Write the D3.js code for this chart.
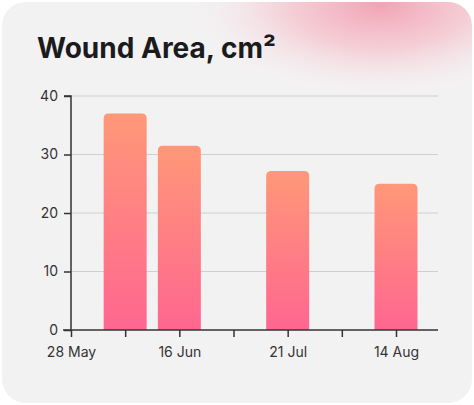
<!DOCTYPE html><html><head><meta charset="utf-8">
<script src="https://cdn.jsdelivr.net/npm/d3@7"></script>
<style>body{margin:0;background:#fff}svg{display:block;font-family:Inter,"Open Sans",sans-serif}</style></head><body>
<script>
const slots=["s0","s1","s2","s3","s4","s5","s6"];
const tickLabels=["28 May","","16 Jun","","21 Jul","","14 Aug"];
const barSlots=["s1","s2","s4","s6"];
const values=[37,31.5,27.2,25];
const yTicks=[0,10,20,30,40];
const W=474,H=405;
const svg=d3.select("body").append("svg").attr("width",W).attr("height",H);
const defs=svg.append("defs");
const rg=defs.append("radialGradient").attr("id","glow").attr("cx","0.5").attr("cy","0.5").attr("r","0.5");
rg.append("stop").attr("offset","0").attr("stop-color","#f2a3b3").attr("stop-opacity",1);
rg.append("stop").attr("offset","0.45").attr("stop-color","#f5c1cc").attr("stop-opacity",0.75);
rg.append("stop").attr("offset","1").attr("stop-color","#f3f2f3").attr("stop-opacity",0);
const lg=defs.append("linearGradient").attr("id","bar").attr("x1",0).attr("y1",0).attr("x2",0).attr("y2",1);
lg.append("stop").attr("offset","0").attr("stop-color","#ff9878");
lg.append("stop").attr("offset","1").attr("stop-color","#ff6690");
defs.append("clipPath").attr("id","card").append("rect").attr("x",2).attr("y",2).attr("width",W-4).attr("height",H-4).attr("rx",24);
const g0=svg.append("g").attr("clip-path","url(#card)");
g0.append("rect").attr("width",W).attr("height",H).attr("fill","#f3f2f3");
g0.append("ellipse").attr("cx",380).attr("cy",5).attr("rx",200).attr("ry",95).attr("fill","url(#glow)");
svg.append("text").attr("x",37).attr("y",58).attr("font-size",28).attr("font-weight",700).attr("fill","#1b1b1d").text("Wound Area, cm²");
const x=d3.scalePoint().domain(slots).range([71,396]);
const y=d3.scaleLinear().domain([0,40]).range([330,96]);
const g=svg.append("g");
g.selectAll(".grid").data(yTicks.slice(1)).join("line").attr("x1",71).attr("x2",438).attr("y1",d=>y(d)).attr("y2",d=>y(d)).attr("stroke","#cfcfd1").attr("stroke-width",1.2);
const bw=43,r=5;
g.selectAll(".b").data(values).join("path").attr("fill","url(#bar)").attr("d",(d,i)=>{
 const cx=x(barSlots[i]),x0=cx-bw/2,x1=cx+bw/2,t=y(d),b=y(0);
 return `M${x0},${b}V${t+r}Q${x0},${t} ${x0+r},${t}H${x1-r}Q${x1},${t} ${x1},${t+r}V${b}Z`;});
const ya=g.append("g").attr("transform","translate(71,0)").call(d3.axisLeft(y).tickValues(yTicks).tickSize(7).tickPadding(6));
ya.select(".domain").attr("d","M-7,96H0V330").attr("stroke","#333").attr("stroke-width",1.5);
ya.selectAll(".tick line").attr("stroke","#333").attr("stroke-width",1.5);
ya.selectAll("text").attr("font-size",14).attr("fill","#333").attr("font-family","Inter,sans-serif");
const xa=g.append("g").attr("transform","translate(0,330)").call(d3.axisBottom(x).tickSize(7).tickPadding(10).tickFormat((d,i)=>tickLabels[i]));
xa.select(".domain").attr("d","M63,0H438").attr("stroke","#333").attr("stroke-width",1.5);
xa.selectAll(".tick line").attr("stroke","#333").attr("stroke-width",1.5);
xa.selectAll("text").attr("font-size",14).attr("fill","#333").attr("font-family","Inter,sans-serif");
</script></body></html>
